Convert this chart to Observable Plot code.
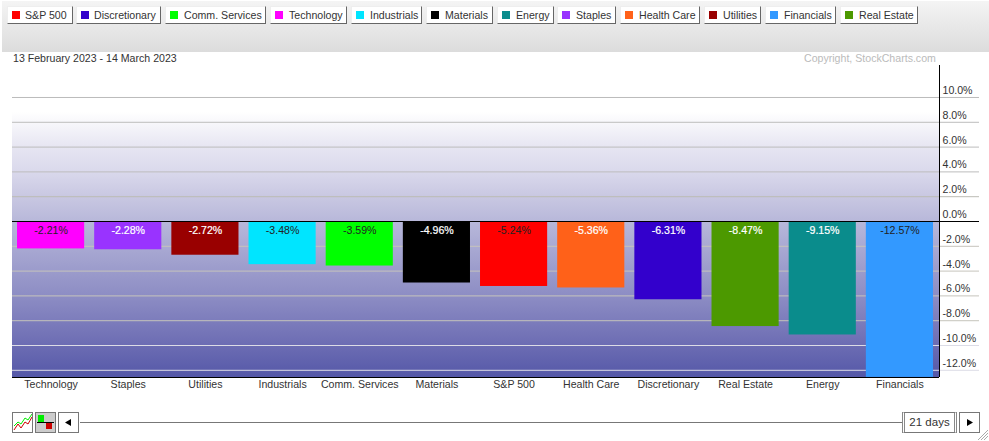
<!DOCTYPE html>
<html><head><meta charset="utf-8">
<script src="https://cdn.jsdelivr.net/npm/d3@7"></script>
<script src="https://cdn.jsdelivr.net/npm/@observablehq/plot@0.6"></script>
<style>
html,body{margin:0;padding:0;background:#fff;overflow:hidden}
#page{position:relative;width:989px;height:441px;font-family:"Liberation Sans",Arial,sans-serif;color:#333;font-size:10.6px}
#head{position:absolute;left:2px;top:1px;width:987px;height:51px;background:linear-gradient(#f4f4f4,#dcdcdc)}
.btn{position:absolute;top:6px;height:18px;box-sizing:border-box;background:#fff;border:1px solid #eee;border-right:1px solid #666;border-bottom:1px solid #666;line-height:17px;white-space:nowrap;font-size:10.6px;color:#333}
.btn i{position:absolute;left:4px;top:4px;width:8px;height:8px}
.btn span{position:absolute;top:0}
#date{position:absolute;left:13px;top:52px;color:#333}
#copy{position:absolute;left:804px;top:52px;color:#bbb}
#plot{position:absolute;left:0;top:52px}
.ctl{position:absolute;box-sizing:border-box;border:1px solid #777;background:#fff}
</style></head><body>
<div id="page">
<div id="head"></div>
<div id="legend"></div>
<div id="date">13 February 2023 - 14 March 2023</div>
<div id="copy">Copyright, StockCharts.com</div>
<div id="plot"></div>
<div class="ctl" style="left:12px;top:412px;width:21px;height:21px"><svg width="19" height="19"><polyline points="1,13 5,9 8,11 12,5 15,7 19,1" fill="none" stroke="#0e0" stroke-width="1"/><polyline points="1,17 5,11 8,15 12,9 15,11 19,4" fill="none" stroke="#c00" stroke-width="1"/></svg></div>
<div class="ctl" style="left:35px;top:412px;width:21px;height:21px;background:#ccc"><svg width="19" height="19"><rect x="2" y="2" width="6" height="7" fill="#0e0"/><rect x="10" y="10" width="6" height="6" fill="#c00"/><line x1="1" x2="18" y1="9.5" y2="9.5" stroke="#000"/></svg></div>
<div class="ctl" style="left:58px;top:412px;width:21px;height:21px"><svg width="19" height="19"><path d="M6 9.5 L12 6 L12 13 Z" fill="#000"/></svg></div>
<div style="position:absolute;left:80px;top:422px;width:822px;height:1px;background:#777"></div>
<div class="ctl" style="left:902px;top:412px;width:55px;height:21px;font-size:11.5px;text-align:center;line-height:19px;border-left:3px double #888;border-right:3px double #888;color:#333">21 days</div>
<div class="ctl" style="left:959px;top:412px;width:21px;height:21px"><svg width="19" height="19"><path d="M13 9.5 L7 6 L7 13 Z" fill="#000"/></svg></div>
<svg style="position:absolute;left:977px;top:429px" width="12" height="12"><path d="M1 11 L11 1 M4 11 L11 4 M7 11 L11 7" stroke="#aaa" stroke-width="1" fill="none"/></svg>
</div>
<script>
const categories = ["Technology","Staples","Utilities","Industrials","Comm. Services","Materials","S&P 500","Health Care","Discretionary","Real Estate","Energy","Financials"];
const changes = [-2.21,-2.28,-2.72,-3.48,-3.59,-4.96,-5.24,-5.36,-6.31,-8.47,-9.15,-12.57];
const barColors = ["#ff00ff","#9933ff","#990000","#00e5ff","#00ff00","#000000","#ff0000","#ff6119","#3300cc","#4c9900","#0a8c8c","#3399ff"];
const labelColors = ["#222","#fff","#fff","#222","#222","#fff","#222","#fff","#fff","#fff","#fff","#222"];
const legendNames = ["S&P 500","Discretionary","Comm. Services","Technology","Industrials","Materials","Energy","Staples","Health Care","Utilities","Financials","Real Estate"];
const legendColors = ["#ff0000","#3300cc","#00ff00","#ff00ff","#00e5ff","#000000","#0a8c8c","#9933ff","#ff6119","#990000","#3399ff","#4c9900"];
const legendLeft = [7,76,165,270,351,426,497,557,620,704,765,840];
const legendWidth = [66,85,101,77,71,67,57,59,80,57,71,78];
const legendTextX = [17,17,18,18,18,18,18,18,18,18,18,18];
const yTicks = [10,8,6,4,2,0,-2,-4,-6,-8,-10,-12];
const gridColors = ["#bcbcbc","#bcbcbc","#bcbcbc","#bcbcbc","#bcbcb4","none","#c6c4bc","#c6c4bc","#c6c4bc","#c6c4bc","#dcdce6","#dcdce6"];
const yDomain = [-12.58,12.58];

const legend = document.getElementById("legend");
legendNames.forEach((n,i)=>{
  const b=document.createElement("div");b.className="btn";
  b.style.left=legendLeft[i]+"px";b.style.width=legendWidth[i]+"px";
  const sw=document.createElement("i");sw.style.background=legendColors[i];b.appendChild(sw);
  const t=document.createElement("span");t.textContent=n;t.style.left=legendTextX[i]+"px";b.appendChild(t);
  legend.appendChild(b);
});

const rows = categories.map((c,i)=>({c,v:changes[i],col:barColors[i],lab:labelColors[i]}));
const grid = yTicks.map((t,i)=>({t,col:gridColors[i]}));
const background = (index, scales, values, dims) => {
  const [a,b] = scales.x.range();
  const g = d3.create("svg:g");
  const lg = g.append("defs").append("linearGradient").attr("id","bg").attr("x1",0).attr("x2",0).attr("y1",0).attr("y2",1);
  [["0%","#ffffff"],["15%","#ffffff"],["26%","#e7e6f2"],["34%","#dad9ec"],["42%","#c9c8e2"],["50%","#b8b8da"],["75%","#8b8bc3"],["88%","#7070b5"],["100%","#5558a8"]]
    .forEach(([o,c])=>lg.append("stop").attr("offset",o).attr("stop-color",c));
  g.append("rect").attr("x",a).attr("width",b-a+1).attr("y",dims.marginTop).attr("height",dims.height-dims.marginTop-dims.marginBottom).attr("fill","url(#bg)");
  return g.node();
};
const frameLines = (index, scales, values, dims) => {
  const [a,b] = scales.x.range();
  const top = dims.marginTop, bot = dims.height-dims.marginBottom;
  const g = d3.create("svg:g").attr("stroke","#000").attr("shape-rendering","crispEdges");
  g.append("line").attr("x1",b+1).attr("x2",b+1).attr("y1",top).attr("y2",bot);
  g.append("line").attr("x1",a).attr("x2",b+1).attr("y1",bot).attr("y2",bot);
  return g.node();
};
const chart = Plot.plot({
  width:989,height:348,marginLeft:12,marginRight:10,marginTop:13,marginBottom:23,
  style:{fontFamily:'"Liberation Sans",Arial,sans-serif',fontSize:"10.6px",background:"transparent",color:"#333"},
  x:{domain:categories,range:[12,938],paddingInner:0.13,paddingOuter:0.065,round:false,label:null},
  y:{domain:yDomain,label:null},
  marks:[
    background,
    Plot.ruleY(grid,{y:"t",stroke:"col"}),
    Plot.barY(rows,{x:"c",y:"v",fill:"col"}),
    Plot.ruleY([0],{stroke:"#000",strokeWidth:1}),
    frameLines,
    Plot.text(rows,{x:"c",y:0,text:d=>d.v.toFixed(2)+"%",fill:"lab",stroke:d=>d.lab==="#fff"?"#fff":"none",strokeWidth:0.2,dy:9,fontSize:10.6}),
    Plot.axisX({anchor:"bottom",tickSize:0,tickPadding:3,fontSize:10.6,label:null}),
    Plot.axisY(yTicks,{anchor:"right",tickSize:0,tickPadding:0,dx:-37,dy:-7,tickFormat:d=>d.toFixed(1)+"%",label:null,textAnchor:"start",fontSize:10.6})
  ]
});
document.getElementById("plot").appendChild(chart);
</script>
</body></html>
